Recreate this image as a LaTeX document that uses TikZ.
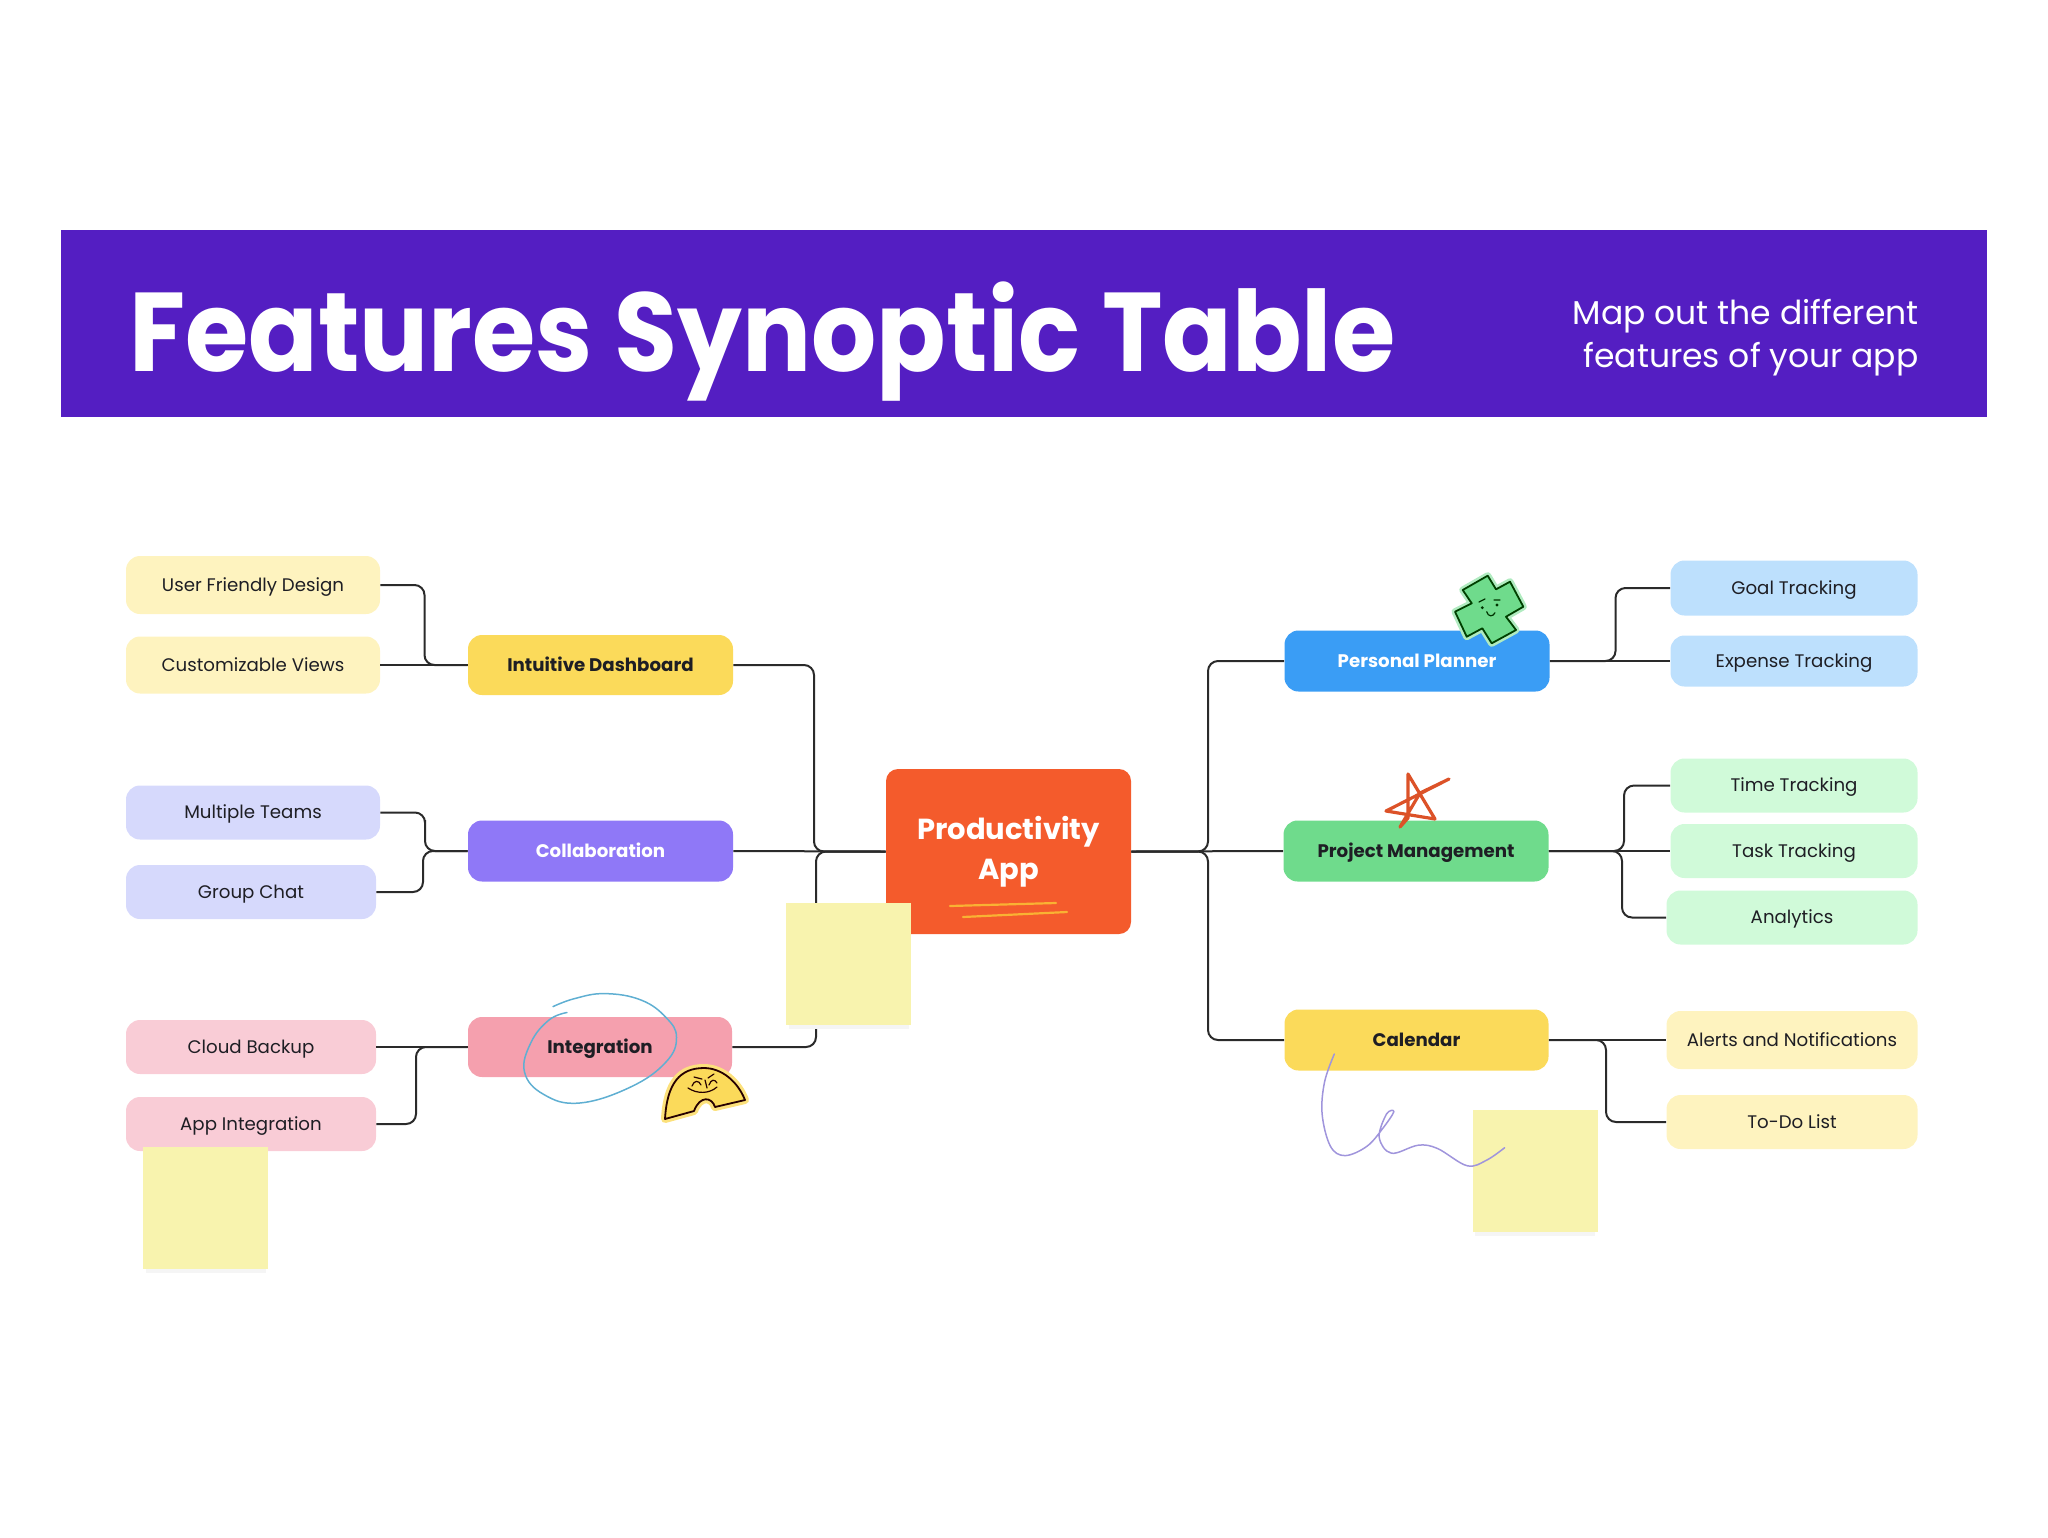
\documentclass[tikz,border=0pt]{standalone}
\usepackage{xcolor}
\usepackage{graphicx}
\usepackage{fontspec}
\setmainfont{Poppins}
\usepackage{tikz}
\usetikzlibrary{positioning, calc}
\definecolor{bannerviolet}{HTML}{541EC2}
\definecolor{coreorange}{HTML}{F45B2C}
\definecolor{inkdark}{HTML}{1E1E24}
\definecolor{wireblack}{HTML}{2A2A2A}
\definecolor{stickyyellow}{HTML}{F8F3AE}
\definecolor{sunyellow}{HTML}{FBDA5A}
\definecolor{paleyellow}{HTML}{FEF3BF}
\definecolor{violetmid}{HTML}{8F78F7}
\definecolor{palelilac}{HTML}{D6D9FC}
\definecolor{rosemid}{HTML}{F5A0AE}
\definecolor{palerose}{HTML}{F9CCD6}
\definecolor{skymid}{HTML}{3A9DF5}
\definecolor{paleblue}{HTML}{BDE0FD}
\definecolor{leafmid}{HTML}{6FDB8C}
\definecolor{palegreen}{HTML}{D0FAD9}
\definecolor{underlinegold}{HTML}{F9B233}
\definecolor{ringblue}{HTML}{5FAFD2}
\definecolor{squigglelilac}{HTML}{A095DC}
\tikzset{
    leaf/.style={rounded corners=7pt, inner sep=0pt, text=inkdark, text height=8pt, text depth=2pt, font=\fontsize{9.1}{11}\selectfont},
    branch/.style={rounded corners=7pt, inner sep=0pt, text height=8pt, text depth=2pt, font=\fontsize{9.1}{11}\selectfont\bfseries},
    wire/.style={draw=wireblack, line width=1pt, rounded corners=5pt},
    sticky/.style={fill=stickyyellow, minimum width=62.5pt, minimum height=61pt, inner sep=0pt},
    scribble/.style={line width=0.75pt, line cap=round, line join=round},
}

\begin{document}
\begin{tikzpicture}[x=0.5pt, y=-0.5pt]
    \useasboundingbox (0,0) rectangle (2048,1537);

    % ===== Banner =====
    \node[fill=bannerviolet, minimum width=963pt, minimum height=93.5pt, inner sep=0pt] (banner) at (1024,323.5) {};
    \node[anchor=base west, inner sep=0pt, text=white, font=\fontsize{56}{66}\selectfont\bfseries] (title) at (129,371) {\scalebox{0.915}[1]{Features Synoptic Table}};
    \node[anchor=east, inner sep=0pt, align=right, text=white, font=\fontsize{16.5}{21.5}\selectfont] (subtitle) at (1919,338) {Map out the different\\features of your app};

    % ===== Centre =====
    \node[fill=coreorange, rounded corners=6pt, minimum width=122.5pt, minimum height=82.5pt, inner sep=0pt, text=white, align=center, font=\fontsize{14.5}{20.5}\selectfont\bfseries] (core) at (1008.5,851.5) {\raisebox{3.25pt}{\shortstack{Productivity\\[3pt]App}}};

    % ===== Branches =====
    \foreach \id/\x/\y/\w/\h/\c/\t/\lbl in {
        dash/600.5/665/132.5/30/sunyellow/inkdark/Intuitive Dashboard,
        collab/600.5/851/132.5/30.5/violetmid/white/Collaboration,
        integ/600/1047/132/30/rosemid/inkdark/Integration,
        planner/1417/661/132.5/30.5/skymid/white/Personal Planner,
        project/1416/851/132.5/30.5/leafmid/inkdark/Project Management,
        calendar/1416.5/1040/132/30.5/sunyellow/inkdark/Calendar} {
        \node[branch, fill=\c, text=\t, minimum width=\w pt, minimum height=\h pt] (\id) at (\x,\y) {\lbl};
    }

    % ===== Leaves =====
    \foreach \id/\x/\y/\w/\h/\c/\lbl in {
        design/253/585/127/29/paleyellow/User Friendly Design,
        views/253/665/127/28.5/paleyellow/Customizable Views,
        teams/253/812.5/127/27/palelilac/Multiple Teams,
        chat/251/892/125/27/palelilac/Group Chat,
        backup/251/1047/125/27/palerose/Cloud Backup,
        appint/251/1124/125/27/palerose/App Integration,
        goal/1794/588/123.5/27.5/paleblue/Goal Tracking,
        expense/1794/661/123.5/25.5/paleblue/Expense Tracking,
        timetr/1794/785.5/123.5/27/palegreen/Time Tracking,
        task/1794/851/123.5/27/palegreen/Task Tracking,
        analytics/1792/917.5/125.5/27/palegreen/Analytics,
        alerts/1792/1040/125.5/29/paleyellow/Alerts and Notifications,
        todo/1792/1122/125.5/27/paleyellow/To-Do List} {
        \node[leaf, fill=\c, minimum width=\w pt, minimum height=\h pt] (\id) at (\x,\y) {\lbl};
    }

    % ===== Connectors =====
    \coordinate (busdesign) at (424.5,630);
    \coordinate (busteams) at (425,830);
    \coordinate (buschat) at (423,870);
    \coordinate (busapp) at (416,1090);
    \coordinate (busdash) at (814,760);
    \coordinate (businteg) at (816,950);
    \coordinate (busplanner) at (1208,760);
    \coordinate (buscalendar) at (1208,950);
    \coordinate (busgoal) at (1615.5,625);
    \coordinate (bustime) at (1624,820);
    \coordinate (busanalytics) at (1622,885);
    \coordinate (bustodo) at (1606,1085);

    \draw[wire] (design.east) -| (busdesign) |- (dash.west);
    \draw[wire] (views.east) -- (dash.west);
    \draw[wire] (teams.east) -| (busteams) |- (collab.west);
    \draw[wire] (chat.east) -| (buschat) |- (collab.west);
    \draw[wire] (backup.east) -- (integ.west);
    \draw[wire] (appint.east) -| (busapp) |- (integ.west);
    \draw[wire] (dash.east) -| (busdash) |- (core.west);
    \draw[wire] (collab.east) -- (core.west);
    \draw[wire] (integ.east) -| (businteg) |- (core.west);
    \draw[wire] (core.east) -| (busplanner) |- (planner.west);
    \draw[wire] (core.east) -- (project.west);
    \draw[wire] (core.east) -| (buscalendar) |- (calendar.west);
    \draw[wire] (planner.east) -| (busgoal) |- (goal.west);
    \draw[wire] (planner.east) -- (expense.west);
    \draw[wire] (project.east) -| (bustime) |- (timetr.west);
    \draw[wire] (project.east) -- (task.west);
    \draw[wire] (project.east) -| (busanalytics) |- (analytics.west);
    \draw[wire] (calendar.east) -- (alerts.west);
    \draw[wire] (calendar.east) -| (bustodo) |- (todo.west);

    % ===== Sticky notes =====
    \foreach \id/\x/\y in {noteleft/205.5/1207.5, notecore/848.5/964, noteright/1535/1170.5} {
        \fill[black!4] (\x-60,\y+58) rectangle (\x+60,\y+65);
        \node[sticky] (\id) at (\x,\y) {};
    }

    % ===== Doodles =====
    % core underline
    \draw[scribble, line width=1.1pt, draw=underlinegold] (950,906) -- (1056,903);
    \draw[scribble, line width=1.1pt, draw=underlinegold] (963,917) -- (1067,912);
    % ring round integration
    \draw[scribble, draw=ringblue] plot[smooth, tension=0.7] coordinates {(553,1006.6) (574.5,998.6) (605,993.6) (641,1000) (666,1017.5) (676.5,1037.4) (666,1062) (630.6,1087) (579.6,1103) (544,1094.6) (524.5,1072) (531,1042.4) (549,1020) (567,1012.5)};
    % calendar squiggle
    \draw[scribble, draw=squigglelilac, shift={(-1.3,-2.8)}] plot[smooth, tension=0.6] coordinates {(1335.6,1056.8) (1325.9,1084.5) (1323.4,1116.8) (1331.7,1149) (1346.3,1158.4) (1368.3,1149) (1384.4,1130.7) (1395.1,1114.5) (1387.8,1116.8) (1380.5,1140) (1392.7,1156) (1419.5,1148) (1439,1151.4) (1468.3,1168.5) (1487.8,1163) (1505.9,1150.5)};
    % star on project
    \draw[line width=1.6pt, line cap=round, line join=round, draw=coreorange!90!black] (1400,827) -- (1408,818) -- (1408,774) -- (1435,819) -- (1386,811) -- (1449,779) -- (1420,793) -- (1400,827);
    % cross sticker
    \def\crosspath{(1462.7,590) -- (1487.7,575.7) -- (1496,589.3) -- (1510,581.7) -- (1523.3,606.7) -- (1506,616.7) -- (1516,630) -- (1491.7,643.3) -- (1482.3,628.3) -- (1466.7,636.7) -- (1455,611.7) -- (1471.7,603.3) -- cycle}
    \draw[draw=leafmid!55!white, line width=3.5pt, line join=round] \crosspath;
    \draw[fill=leafmid, draw=black!75!green, line width=0.9pt, line join=round] \crosspath;
    \fill[black!80!green] (1482.3,607.7) circle[radius=1.6] (1497,605) circle[radius=1.6];
    \draw[black!80!green, line width=0.6pt, line cap=round] (1479,602) -- (1485,599) (1494,600) -- (1500,600) (1486.7,611.7) .. controls (1488,617) and (1493,617) .. (1495,612.7);
    % arch sticker
    \def\archpath{(665,1119) .. controls (667,1083) and (680,1068) .. (704,1068) .. controls (722,1068) and (738,1082) .. (745,1100) -- (715,1107) .. controls (712,1097) and (700,1095) .. (694,1111) -- cycle}
    \draw[draw=sunyellow!80!white, line width=4pt, line join=round] \archpath;
    \draw[fill=sunyellow, draw=black!85!red, line width=0.9pt, line join=round] \archpath;
    \draw[black!85!red, line width=0.6pt, line cap=round] (688,1088) .. controls (697,1094) and (709,1094) .. (717,1087) (692,1086) .. controls (694,1080) and (699,1080) .. (701,1085) (709,1085) .. controls (711,1079) and (715,1079) .. (717,1083) (694,1077) -- (702,1079) (708,1078) -- (714,1074) (705,1080) -- (707,1088);
\end{tikzpicture}
\end{document}
